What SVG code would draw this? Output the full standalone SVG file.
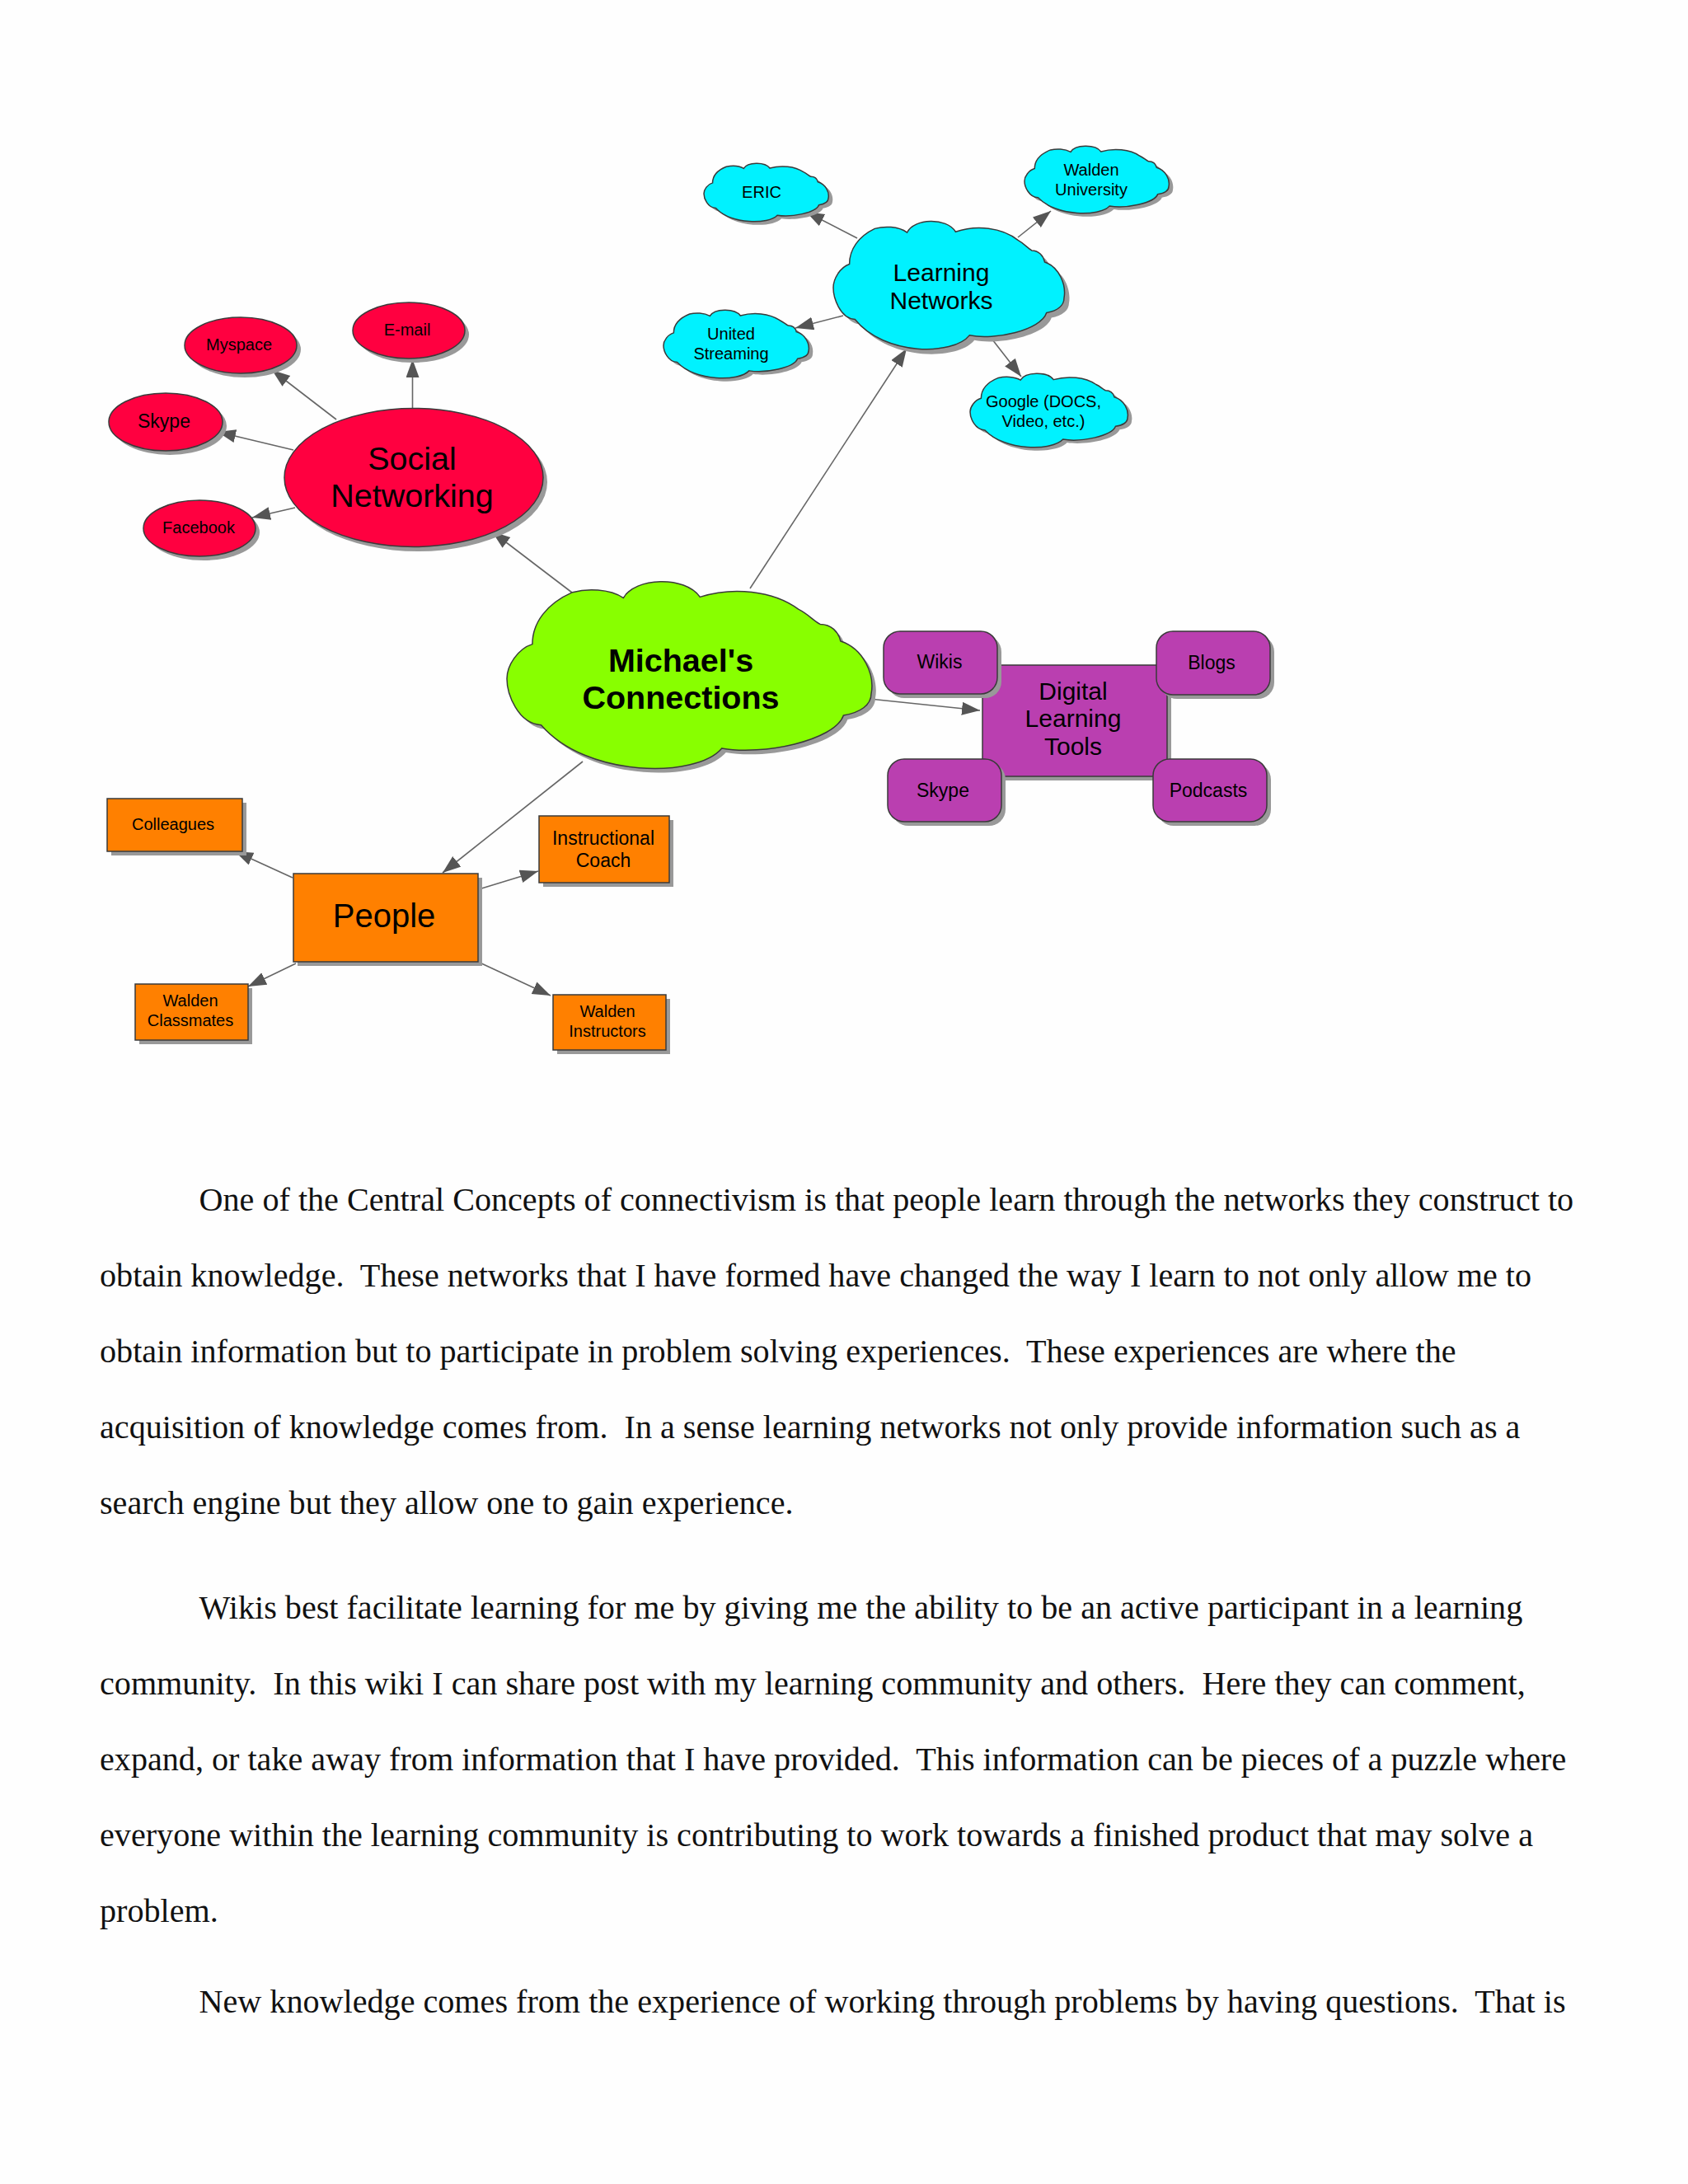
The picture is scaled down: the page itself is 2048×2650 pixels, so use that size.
<svg xmlns="http://www.w3.org/2000/svg" width="2048" height="2650" viewBox="0 0 2048 2650">
<style>
text{font-family:"Liberation Sans",Arial,sans-serif;fill:#000;text-anchor:middle}
.p{font-family:"Liberation Serif","Times New Roman",serif;font-size:40.15px;text-anchor:start;white-space:pre;fill:#111}
.s{fill:#999;stroke:none}
.o{stroke:#3a3a3a;stroke-width:1.5}
#cloud{vector-effect:non-scaling-stroke}
.red{fill:#ff0040}.cy{fill:#00f2ff}.gr{fill:#88ff00}.pu{fill:#ba3fb0}.or{fill:#ff8000}
.c line{stroke:#666;stroke-width:1.6;marker-end:url(#a)}
</style>
<defs>
<marker id="a" markerUnits="userSpaceOnUse" markerWidth="24" markerHeight="18" refX="22" refY="8" orient="auto"><path d="M0,0L22,8L0,16Z" fill="#555"/></marker>
<path id="cloud" d="M18,6C22,4 28,4 32,9C35,-2 49,-3 53,8.5C62,3 73,5 80,15C83,18 84,21 86,23C89,23 91,27 91.6,32C98,36 101,50 100,60C100,66 97,70 92.4,71.5C90,85 70,93 59,89C52,105 22,105 9.4,76.6C3,76 0,60 0,52C0,45 3,36 7,33.6C7,22 11,12 18,6Z"/>
</defs>
<rect width="2048" height="2650" fill="#fefefe"/>
<g id="connectors" class="c">
<line x1="500.5" y1="495" x2="500.5" y2="436"/>
<line x1="408" y1="509" x2="330" y2="449"/>
<line x1="356" y1="546" x2="264" y2="524"/>
<line x1="358" y1="616" x2="306" y2="628"/>
<line x1="694" y1="719" x2="597" y2="645"/>
<line x1="910" y1="714" x2="1100" y2="423"/>
<line x1="1040" y1="289" x2="978" y2="257"/>
<line x1="1235" y1="288" x2="1275" y2="256"/>
<line x1="1023" y1="383" x2="965" y2="398"/>
<line x1="1204" y1="412" x2="1239" y2="457"/>
<line x1="1055" y1="848" x2="1189" y2="862"/>
<line x1="707" y1="924" x2="537" y2="1059"/>
<line x1="355" y1="1065" x2="285" y2="1033"/>
<line x1="581" y1="1079" x2="653" y2="1057"/>
<line x1="359" y1="1169" x2="301" y2="1197"/>
<line x1="582" y1="1168" x2="668" y2="1208"/>
</g>
<g id="social-networking"><ellipse class="s" cx="507" cy="585" rx="157" ry="84"/><ellipse class="red o" cx="502" cy="579.5" rx="157" ry="84"/><text font-size="39.5" x="500" y="570">Social</text><text font-size="39.5" x="500" y="615">Networking</text></g>
<g id="email"><ellipse class="s" cx="501" cy="406" rx="68" ry="34"/><ellipse class="red o" cx="496" cy="401" rx="68" ry="34"/><text font-size="20" x="494" y="407">E-mail</text></g>
<g id="myspace"><ellipse class="s" cx="297" cy="424" rx="68" ry="34"/><ellipse class="red o" cx="292" cy="419" rx="68" ry="34"/><text font-size="20" x="290" y="425">Myspace</text></g>
<g id="skype-sn"><ellipse class="s" cx="206" cy="517" rx="69" ry="35"/><ellipse class="red o" cx="201" cy="512" rx="69" ry="35"/><text font-size="23" x="199" y="519">Skype</text></g>
<g id="facebook"><ellipse class="s" cx="247" cy="646" rx="68" ry="34"/><ellipse class="red o" cx="242" cy="641" rx="68" ry="34"/><text font-size="20" x="241" y="647">Facebook</text></g>
<g id="learning-networks"><use href="#cloud" class="s" transform="translate(1017,274) scale(2.8,1.56)"/><use href="#cloud" class="cy o" transform="translate(1011,268) scale(2.8,1.56)"/><text font-size="30" x="1142" y="341">Learning</text><text font-size="30" x="1142" y="375">Networks</text></g>
<g id="eric"><use href="#cloud" class="s" transform="translate(859,202) scale(1.51,.71)"/><use href="#cloud" class="cy o" transform="translate(854,198) scale(1.51,.71)"/><text font-size="20" x="924" y="240">ERIC</text></g>
<g id="walden-university"><use href="#cloud" class="s" transform="translate(1248,181) scale(1.75,.82)"/><use href="#cloud" class="cy o" transform="translate(1243,177) scale(1.75,.82)"/><text font-size="20" x="1324" y="213">Walden</text><text font-size="20" x="1324" y="237">University</text></g>
<g id="united-streaming"><use href="#cloud" class="s" transform="translate(810,380) scale(1.76,.83)"/><use href="#cloud" class="cy o" transform="translate(805,376) scale(1.76,.83)"/><text font-size="20" x="887" y="412">United</text><text font-size="20" x="887" y="436">Streaming</text></g>
<g id="google"><use href="#cloud" class="s" transform="translate(1182,457) scale(1.91,.9)"/><use href="#cloud" class="cy o" transform="translate(1177,453) scale(1.91,.9)"/><text font-size="20" x="1266" y="494">Google (DOCS,</text><text font-size="20" x="1266" y="518">Video, etc.)</text></g>
<g id="michaels-connections"><use href="#cloud" class="s" transform="translate(620,710) scale(4.42,2.28)"/><use href="#cloud" class="gr o" transform="translate(615,705) scale(4.42,2.28)"/><text font-size="39.5" font-weight="700" x="826" y="814.5">Michael's</text><text font-size="39.5" font-weight="700" x="826" y="859.5">Connections</text></g>
<g id="digital-learning-tools"><rect class="s" x="1197" y="812" width="224" height="135"/><rect class="pu o" x="1192" y="807" width="224" height="135"/><text font-size="30" x="1302" y="849">Digital</text><text font-size="30" x="1302" y="882">Learning</text><text font-size="30" x="1302" y="916">Tools</text></g>
<g id="wikis"><rect class="s" x="1077" y="771" width="138" height="76" rx="20"/><rect class="pu o" x="1072" y="766" width="138" height="76" rx="20"/><text font-size="23" x="1140" y="811">Wikis</text></g>
<g id="blogs"><rect class="s" x="1408" y="771" width="138" height="77" rx="20"/><rect class="pu o" x="1403" y="766" width="138" height="77" rx="20"/><text font-size="23" x="1470" y="812">Blogs</text></g>
<g id="skype-dlt"><rect class="s" x="1082" y="926" width="138" height="76" rx="20"/><rect class="pu o" x="1077" y="921" width="138" height="76" rx="20"/><text font-size="23" x="1144" y="967">Skype</text></g>
<g id="podcasts"><rect class="s" x="1404" y="926" width="138" height="76" rx="20"/><rect class="pu o" x="1399" y="921" width="138" height="76" rx="20"/><text font-size="23" x="1466" y="967">Podcasts</text></g>
<g id="people"><rect class="s" x="361" y="1065" width="224" height="107"/><rect class="or o" x="356" y="1060" width="224" height="107"/><text font-size="40" x="466" y="1125">People</text></g>
<g id="colleagues"><rect class="s" x="135" y="974" width="164" height="64"/><rect class="or o" x="130" y="969" width="164" height="64"/><text font-size="20" x="210" y="1007">Colleagues</text></g>
<g id="instructional-coach"><rect class="s" x="659" y="995" width="158" height="81"/><rect class="or o" x="654" y="990" width="158" height="81"/><text font-size="23" x="732" y="1025">Instructional</text><text font-size="23" x="732" y="1052">Coach</text></g>
<g id="walden-classmates"><rect class="s" x="169" y="1199" width="137" height="68"/><rect class="or o" x="164" y="1194" width="137" height="68"/><text font-size="20" x="231" y="1221">Walden</text><text font-size="20" x="231" y="1245">Classmates</text></g>
<g id="walden-instructors"><rect class="s" x="676" y="1212" width="137" height="67"/><rect class="or o" x="671" y="1207" width="137" height="67"/><text font-size="20" x="737" y="1234">Walden</text><text font-size="20" x="737" y="1258">Instructors</text></g>
<g id="body-text">
<text class="p" x="241.5" y="1469">One of the Central Concepts of connectivism is that people learn through the networks they construct to</text>
<text class="p" x="121" y="1561">obtain knowledge.  These networks that I have formed have changed the way I learn to not only allow me to</text>
<text class="p" x="121" y="1653">obtain information but to participate in problem solving experiences.  These experiences are where the</text>
<text class="p" x="121" y="1745">acquisition of knowledge comes from.  In a sense learning networks not only provide information such as a</text>
<text class="p" x="121" y="1837">search engine but they allow one to gain experience.</text>
<text class="p" x="241.5" y="1964">Wikis best facilitate learning for me by giving me the ability to be an active participant in a learning</text>
<text class="p" x="121" y="2056">community.  In this wiki I can share post with my learning community and others.  Here they can comment,</text>
<text class="p" x="121" y="2148">expand, or take away from information that I have provided.  This information can be pieces of a puzzle where</text>
<text class="p" x="121" y="2240">everyone within the learning community is contributing to work towards a finished product that may solve a</text>
<text class="p" x="121" y="2332">problem.</text>
<text class="p" x="241.5" y="2442">New knowledge comes from the experience of working through problems by having questions.  That is</text>
</g>
</svg>
